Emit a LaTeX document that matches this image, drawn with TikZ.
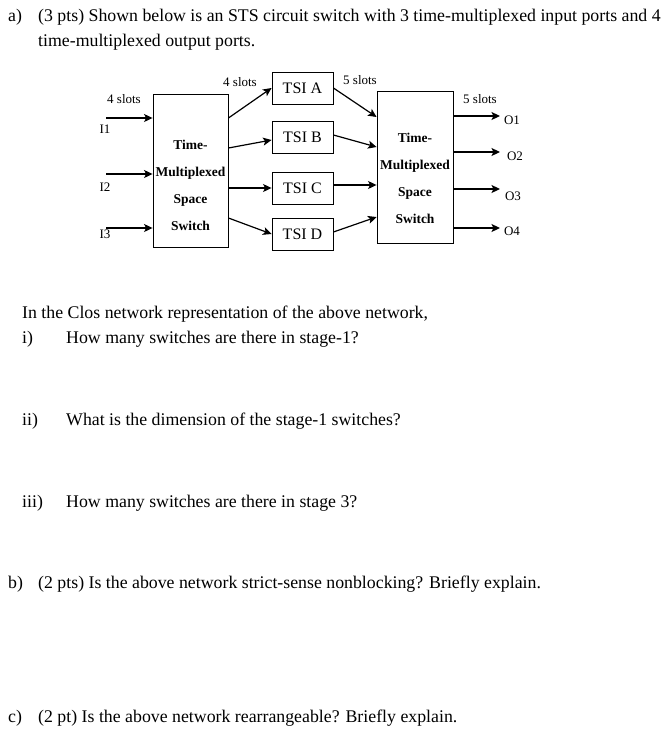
\documentclass[tikz,border=0pt]{standalone}
\usepackage{fontspec}
\setmainfont{Liberation Serif}
\usetikzlibrary{arrows.meta, positioning, calc}

\begin{document}
\begin{tikzpicture}[x=1pt, y=-1pt, >={Stealth[length=8.5pt,width=8pt,inset=2pt]},
    swbox/.style={draw, line width=0.9pt, inner sep=0pt},
    swtext/.style={align=center, font=\fontsize{13.5}{27}\selectfont\bfseries},
    tsibox/.style={draw, line width=0.9pt, minimum width=61, minimum height=32, inner sep=0pt, font=\fontsize{16}{18}\selectfont},
    slots/.style={inner sep=0pt, font=\fontsize{13}{15}\selectfont},
    inport/.style={inner sep=0pt, font=\fontsize{13}{15}\selectfont},
    outport/.style={inner sep=0pt, font=\fontsize{13}{15}\selectfont},
    qtext/.style={anchor=base west, inner sep=0pt, font=\fontsize{17.8}{20}\selectfont},
    conn/.style={->, line width=1.2pt}]
    \useasboundingbox (0,0) rectangle (667,734);
    \node[qtext] (qa) at (8,21) {a)};
    \node[qtext] (qatext) at (38,21) {(3 pts) Shown below is an STS circuit switch with 3 time-multiplexed input ports and 4};
    \node[qtext] (qatext2) at (38,46) {time-multiplexed output ports.};
    \node[swbox, minimum width=75, minimum height=153] (lsw) at (190.5,170.5) {};
    \node[swtext] (lswtext) at ($(lsw.center)+(0,15)$) {Time-\\Multiplexed\\Space\\Switch};
    \node[tsibox] (tsia) at (302.5,88) {TSI A};
    \node[tsibox] (tsib) at (302.5,137.5) {TSI B};
    \node[tsibox] (tsic) at (302.5,188) {TSI C};
    \node[tsibox] (tsid) at (302.5,234) {TSI D};
    \node[swbox, minimum width=76, minimum height=152] (rsw) at (415,167) {};
    \node[swtext] (rswtext) at ($(rsw.center)+(0,11)$) {Time-\\Multiplexed\\Space\\Switch};
    \node[slots] (slin) at (124,99) {4 slots};
    \node[slots] (sltsi) at (240,82) {4 slots};
    \node[slots] (slrsw) at (360,80) {5 slots};
    \node[slots] (slout) at (480,99) {5 slots};
    \node[inport] (i1) at (105,129) {I1};
    \node[inport] (i2) at (105,187) {I2};
    \node[inport] (i3) at (105,234) {I3};
    \coordinate (in1) at (106,118);
    \coordinate (in2) at (106,174);
    \coordinate (in3) at (106,228);
    \draw[conn] (in1) -- (in1 -| lsw.west);
    \draw[conn] (in2) -- (in2 -| lsw.west);
    \draw[conn] (in3) -- (in3 -| lsw.west);
    \draw[conn] ($(lsw.east)+(0,-52.5)$) -- (tsia.west);
    \draw[conn] ($(lsw.east)+(0,-22.5)$) -- ($(tsib.west)+(0,2.5)$);
    \draw[conn] ($(lsw.east)+(0,17.5)$) -- (tsic.west);
    \draw[conn] ($(lsw.east)+(0,47.5)$) -- (tsid.west);
    \draw[conn] (tsia.east) -- ($(rsw.west)+(0,-50)$);
    \draw[conn] ($(tsib.east)+(0,-2.5)$) -- ($(rsw.west)+(0,-20)$);
    \draw[conn] ($(tsic.east)+(0,-3)$) -- ($(rsw.west)+(0,18)$);
    \draw[conn] ($(tsid.east)+(0,-2)$) -- ($(rsw.west)+(0,50)$);
    \node[outport] (o1) at (512,120) {O1};
    \node[outport] (o2) at (515,156) {O2};
    \node[outport] (o3) at (513,196) {O3};
    \node[outport] (o4) at (512,231) {O4};
    \coordinate (out1) at (500,116);
    \coordinate (out2) at (500,152);
    \coordinate (out3) at (500,189);
    \coordinate (out4) at (500,228);
    \draw[conn] (out1 -| rsw.east) -- (out1);
    \draw[conn] (out2 -| rsw.east) -- (out2);
    \draw[conn] (out3 -| rsw.east) -- (out3);
    \draw[conn] (out4 -| rsw.east) -- (out4);
    \node[qtext] (qclos) at (22,318) {In the Clos network representation of the above network,};
    \node[qtext] (qi) at (22,343) {i)};
    \node[qtext] (qitext) at (66,343) {How many switches are there in stage-1?};
    \node[qtext] (qii) at (22,425) {ii)};
    \node[qtext] (qiitext) at (66,425) {What is the dimension of the stage-1 switches?};
    \node[qtext] (qiii) at (22,507) {iii)};
    \node[qtext] (qiiitext) at (66,507) {How many switches are there in stage 3?};
    \node[qtext] (qb) at (8,588) {b)};
    \node[qtext] (qbtext) at (38,588) {(2 pts) Is the above network strict-sense nonblocking? Briefly explain.};
    \node[qtext] (qc) at (8,722) {c)};
    \node[qtext] (qctext) at (38,722) {(2 pt) Is the above network rearrangeable? Briefly explain.};
\end{tikzpicture}
\end{document}
